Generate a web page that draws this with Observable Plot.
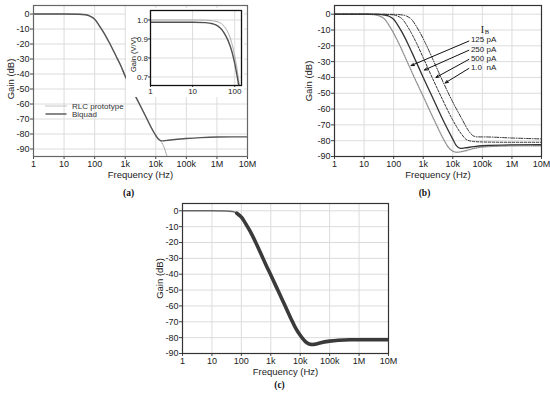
<!DOCTYPE html>
<html><head><meta charset="utf-8">
<script src="https://cdn.jsdelivr.net/npm/d3@7"></script>
<script src="https://cdn.jsdelivr.net/npm/@observablehq/plot@0.6"></script>
<style>
html,body{margin:0;padding:0;background:#fff;}
#wrap{position:relative;width:550px;height:395px;overflow:hidden;background:#fff;}
#wrap > .panel{position:absolute;}
#wrap svg{display:block;}
</style></head><body><div id="wrap"></div>
<script>
// ---------- axis ticks ----------
const freqTicks = [1, 10, 100, 1e3, 1e4, 1e5, 1e6, 1e7];
const freqTickLabels = ["1", "10", "100", "1k", "10k", "100k", "1M", "10M"];
const gainTicks = [0, -10, -20, -30, -40, -50, -60, -70, -80, -90];
const gainTickLabels = ["0", "-10", "-20", "-30", "-40", "-50", "-60", "-70", "-80", "-90"];
const insetFreqTicks = [1, 10, 100];
const insetFreqTickLabels = ["1", "10", "100"];
const insetGainTicks = [0.7, 0.8, 0.9, 1.0];
const insetGainTickLabels = ["0.7", "0.8", "0.9", "1.0"];

// ---------- panel (a) ----------
const aSeries = ["RLC prototype", "Biquad"];
const aBiquadFreq = [1, 10, 30, 50, 70, 100, 150, 200, 300, 500, 700, 1000, 2000, 3000, 5000, 7000, 10000, 13000, 16000, 20000, 30000, 50000, 1e5, 3e5, 1e6, 3e6, 1e7];
const aBiquadGain = [0, 0, -0.1, -0.5, -1.4, -3.5, -8.5, -12.5, -19, -28, -34, -41.5, -53.5, -60.5, -69.5, -75.5, -81, -84, -84.6, -84.4, -84, -83.5, -83, -82.4, -82, -81.9, -81.9];
const aRlcFreq = [1, 10, 30, 50, 70, 100, 150, 200, 300, 500, 700, 1000, 2000, 3000, 5000, 7000, 10000, 13000, 16000, 20000, 23000, 26000];
const aRlcGain = [0, 0, -0.05, -0.4, -1.3, -3.3, -8.3, -12.3, -18.8, -27.8, -33.8, -41.3, -53.3, -60.3, -69.3, -75.3, -81, -83.3, -86, -90.5, -94.5, -98];
// inset (V/V)
const insBiquadFreq = [1, 5, 10, 20, 30, 40, 50, 60, 70, 86, 100, 115, 124, 132];
const insBiquadGain = [0.988, 0.988, 0.988, 0.986, 0.98, 0.968, 0.948, 0.92, 0.89, 0.833, 0.772, 0.70, 0.656, 0.61];
const insRlcFreq = [1, 5, 10, 20, 30, 40, 50, 60, 70, 86, 100, 115, 124, 132, 138];
const insRlcGain = [1.0, 1.0, 1.0, 0.999, 0.996, 0.99, 0.978, 0.958, 0.932, 0.875, 0.81, 0.735, 0.685, 0.645, 0.61];

// ---------- panel (b) ----------
const bSeries = ["125 pA", "250 pA", "500 pA", "1.0  nA"];
const b125Freq = [1, 10, 15, 25, 35, 50, 75, 100, 150, 250, 500, 1000, 2500, 5000, 7000, 10000, 14000, 25000, 50000, 1e5, 1e6, 1e7];
const b125Gain = [0, 0, -0.1, -0.5, -1.3, -3.2, -8, -12, -18.5, -27.5, -40, -52, -68, -79.5, -84, -86.6, -87.3, -86.5, -85, -84, -83.3, -83.2];
const b250Freq = [1, 10, 30, 50, 70, 100, 150, 200, 300, 500, 1000, 2000, 5000, 10000, 13000, 18000, 25000, 50000, 1e5, 1e6, 1e7];
const b250Gain = [0, 0, -0.1, -0.5, -1.3, -3.2, -8, -12, -18.5, -27.5, -40, -52, -68, -79, -83, -84.8, -84.6, -83.8, -83.2, -82.6, -82.5];
const b500Freq = [1, 10, 50, 100, 140, 200, 300, 400, 600, 1000, 2000, 4000, 10000, 20000, 30000, 50000, 1e5, 1e6, 1e7];
const b500Gain = [0, 0, -0.1, -0.5, -1.3, -3.2, -8, -12, -18.5, -27.5, -40, -52, -67, -76, -79.5, -80.5, -80.8, -81, -81];
const b1nFreq = [1, 10, 100, 200, 280, 400, 600, 800, 1200, 2000, 4000, 8000, 20000, 35000, 50000, 70000, 1e5, 1e6, 1e7];
const b1nGain = [0, 0, -0.1, -0.5, -1.3, -3.2, -8, -12, -18.5, -27.5, -40, -52, -66, -74, -77, -77.6, -77.6, -78.3, -78.9];
// annotation anchors (data units)
const bArrowTipFreq = [389, 1100, 2700, 5500];
const bArrowTipGain = [-32.5, -35.3, -40, -43.5];
const bLabelGain = [-16.2, -22.0, -27.8, -33.5];
const bLabelFreq = 41000;
const bArrowTailFreq = 35000;
const bIbFreq = 1e5;
const bIbGain = -9.7;

// ---------- panel (c) ----------
const cFreq = [1, 10, 30, 50, 70, 100, 150, 200, 300, 500, 700, 1000, 2000, 3000, 5000, 7000, 10000, 15000, 20000, 26000, 35000, 50000, 1e5, 2e5, 5e5, 1e6, 1e7];
const cGain = [0, 0, -0.1, -0.5, -1.5, -4, -9, -13, -19.5, -28.5, -34.5, -40.5, -52.5, -59.5, -68.5, -74, -78.5, -82.5, -84, -84.3, -84, -83.2, -82.2, -81.6, -81.3, -81.3, -81.3];

// ---------- helpers ----------
const rows = (F, G) => F.map((f, i) => ({f, g: G[i]}));
const lookup = (ticks, labels) => (d) => {
  const i = ticks.findIndex(t => Math.abs(t - d) <= 1e-6 * Math.max(1, Math.abs(t)));
  return i < 0 ? "" : labels[i];
};
const SANS = "'Liberation Sans', Arial, Helvetica, sans-serif";
const SERIF = "'Liberation Serif', 'DejaVu Serif', serif";
const GRID = "#dcdcdc";

function place(el, left, top) {
  const d = document.createElement("div");
  d.className = "panel";
  d.style.left = left + "px";
  d.style.top = top + "px";
  d.appendChild(el);
  document.getElementById("wrap").appendChild(d);
}

function mainMarks({gainDx, gainDy = 0, xLabDy, tagDy, tagDx, tag}) {
  return [
    Plot.gridX(freqTicks, {stroke: GRID, strokeOpacity: 1}),
    Plot.gridY(gainTicks, {stroke: GRID, strokeOpacity: 1}),
    Plot.axisX(freqTicks, {tickSize: 3, tickPadding: 1, stroke: "#444", tickFormat: lookup(freqTicks, freqTickLabels), fill: "#222", label: null}),
    Plot.axisY(gainTicks, {tickSize: 3, tickPadding: 1, stroke: "#444", tickFormat: lookup(gainTicks, gainTickLabels), fill: "#222", label: null}),
    Plot.text(["Frequency (Hz)"], {frameAnchor: "bottom", textAnchor: "middle", lineAnchor: "middle", dy: xLabDy, fontSize: 9.5, fill: "#222"}),
    Plot.text(["Gain (dB)"], {frameAnchor: "left", textAnchor: "middle", lineAnchor: "middle", rotate: -90, dx: gainDx, dy: gainDy, fontSize: 9.5, fill: "#222"}),
    Plot.text([tag], {frameAnchor: "bottom", textAnchor: "middle", lineAnchor: "middle", dy: tagDy, dx: tagDx, fontSize: 9.5, fontWeight: "bold", fontFamily: SERIF, fill: "#111"})
  ];
}
const baseStyle = {fontFamily: SANS, fontSize: "9px", color: "#222", background: "transparent", overflow: "visible"};

// ---------- panel (a) ----------
const legendA = (index, scales, values, dimensions) => {
  const g = d3.create("svg:g");
  const ml = dimensions ? dimensions.marginLeft : 33;
  const mt = dimensions ? dimensions.marginTop : 5;
  const x0 = ml + 12.5, x1 = ml + 33.5, tx = ml + 39;
  const items = [
    {y: mt + 101, stroke: "#8a8a8a", dash: "1,1", w: 1, label: aSeries[0]},
    {y: mt + 109, stroke: "#555", dash: null, w: 1.4, label: aSeries[1]}
  ];
  for (const it of items) {
    const l = g.append("line").attr("x1", x0).attr("x2", x1).attr("y1", it.y).attr("y2", it.y)
      .attr("stroke", it.stroke).attr("stroke-width", it.w);
    if (it.dash) l.attr("stroke-dasharray", it.dash);
    g.append("text").attr("x", tx).attr("y", it.y).attr("dy", "0.35em")
      .attr("text-anchor", "start")
      .attr("font-size", 8).attr("fill", "#333").text(it.label);
  }
  return g.node();
};

const plotA = Plot.plot({
  width: 250, height: 200,
  marginLeft: 33, marginRight: 3, marginTop: 5, marginBottom: 44,
  x: {type: "log", domain: [1, 1e7], axis: null},
  y: {domain: [-95, 5.7], axis: null},
  style: baseStyle,
  marks: [
    ...mainMarks({gainDx: -23, gainDy: -2, xLabDy: 18, tagDy: 36, tagDx: -12, tag: "(a)"}),
    Plot.line(rows(aRlcFreq, aRlcGain), {x: "f", y: "g", curve: "monotone-x", clip: true, stroke: "#9a9a9a", strokeWidth: 1, strokeDasharray: "1,1"}),
    Plot.line(rows(aBiquadFreq, aBiquadGain), {x: "f", y: "g", curve: "monotone-x", clip: true, stroke: "#555", strokeWidth: 1.4}),
    Plot.frame({stroke: "#666", strokeWidth: 1.2}),
    legendA
  ]
});
place(plotA, 0, 0);

// inset
const plotInset = Plot.plot({
  width: 118, height: 89,
  marginLeft: 24, marginRight: 3, marginTop: 2, marginBottom: 12,
  x: {type: "log", domain: [1, 145], axis: null},
  y: {domain: [0.655, 1.05], axis: null},
  style: {fontFamily: SANS, fontSize: "8px", color: "#222", background: "#fff", overflow: "visible"},
  marks: [
    Plot.gridX(insetFreqTicks, {stroke: GRID, strokeOpacity: 1}),
    Plot.gridY(insetGainTicks, {stroke: GRID, strokeOpacity: 1}),
    Plot.line(rows(insRlcFreq, insRlcGain), {x: "f", y: "g", curve: "monotone-x", clip: true, stroke: "#a5a5a5", strokeWidth: 1, strokeDasharray: "1.2,0.8"}),
    Plot.line(rows(insBiquadFreq, insBiquadGain), {x: "f", y: "g", curve: "monotone-x", clip: true, stroke: "#505050", strokeWidth: 1.4}),
    Plot.axisX(insetFreqTicks, {tickSize: 2, tickPadding: 1, stroke: "#333", fill: "#222", tickFormat: lookup(insetFreqTicks, insetFreqTickLabels), label: null}),
    Plot.axisY(insetGainTicks, {tickSize: 2, tickPadding: 0.5, stroke: "#333", fill: "#222", tickFormat: lookup(insetGainTicks, insetGainTickLabels), label: null}),
    Plot.text(["Gain (V/V)"], {frameAnchor: "left", textAnchor: "middle", lineAnchor: "middle", rotate: -90, dx: -17, dy: 6.5, fontSize: 7.5, fill: "#222"}),
    Plot.frame({stroke: "#111", strokeWidth: 1.3})
  ]
});
place(plotInset, 126, 8);

// ---------- panel (b) ----------
const bAnn = bSeries.map((s, i) => ({
  label: s, tf: bArrowTipFreq[i], tg: bArrowTipGain[i], lg: bLabelGain[i]
}));
const plotB = Plot.plot({
  width: 245, height: 200,
  marginLeft: 34, marginRight: 4, marginTop: 5, marginBottom: 44,
  x: {type: "log", domain: [1, 1e7], axis: null},
  y: {domain: [-90, 5.5], axis: null},
  style: baseStyle,
  marks: [
    ...mainMarks({gainDx: -26, xLabDy: 18.5, tagDy: 36, tagDx: -13.5, tag: "(b)"}),
    Plot.line(rows(b125Freq, b125Gain), {x: "f", y: "g", curve: "monotone-x", clip: true, stroke: "#8f8f8f", strokeWidth: 1.3, strokeDasharray: "1,1.2"}),
    Plot.line(rows(b1nFreq, b1nGain), {x: "f", y: "g", curve: "monotone-x", clip: true, stroke: "#333", strokeWidth: 1, strokeDasharray: "4,1.5,1,1.5"}),
    Plot.line(rows(b500Freq, b500Gain), {x: "f", y: "g", curve: "monotone-x", clip: true, stroke: "#333", strokeWidth: 1, strokeDasharray: "2.5,1.5"}),
    Plot.line(rows(b250Freq, b250Gain), {x: "f", y: "g", curve: "monotone-x", clip: true, stroke: "#333", strokeWidth: 1.3}),
    Plot.arrow(bAnn, {x1: () => bArrowTailFreq, y1: d => d.lg - 0.8, x2: "tf", y2: "tg", bend: 0, headLength: 5, headAngle: 45, stroke: "#111", strokeWidth: 1}),
    Plot.text(bAnn, {x: () => bLabelFreq, y: "lg", text: "label", textAnchor: "start", fontSize: 8, fill: "#222"}),
    Plot.text(["I"], {x: () => bIbFreq, y: () => bIbGain, fontFamily: SERIF, fontSize: 10, fill: "#222"}),
    Plot.text(["B"], {x: () => bIbFreq, y: () => bIbGain, dx: 4.5, dy: 2.5, fontFamily: SERIF, fontSize: 6.5, fill: "#222"}),
    Plot.frame({stroke: "#333", strokeWidth: 1.2})
  ]
});
place(plotB, 300, 0);

// ---------- panel (c) ----------
const cRows = rows(cFreq, cGain);
const plotC = Plot.plot({
  width: 243, height: 200,
  marginLeft: 34, marginRight: 3, marginTop: 6, marginBottom: 44,
  x: {type: "log", domain: [1, 1e7], axis: null},
  y: {domain: [-90, 4.6], axis: null},
  style: baseStyle,
  marks: [
    ...mainMarks({gainDx: -23, xLabDy: 18.5, tagDy: 31, tagDx: -6, tag: "(c)"}),
    Plot.line(cRows, {x: "f", y: "g", curve: "monotone-x", clip: true, stroke: "#666", strokeWidth: 1.5}),
    Plot.line(cRows.filter(d => d.f >= 70), {x: "f", y: "g", curve: "monotone-x", clip: true, stroke: "#3a3a3a", strokeWidth: 3.6, strokeLinecap: "round"}),
    Plot.frame({stroke: "#333", strokeWidth: 1.2})
  ]
});
place(plotC, 148, 197);
</script></body></html>
